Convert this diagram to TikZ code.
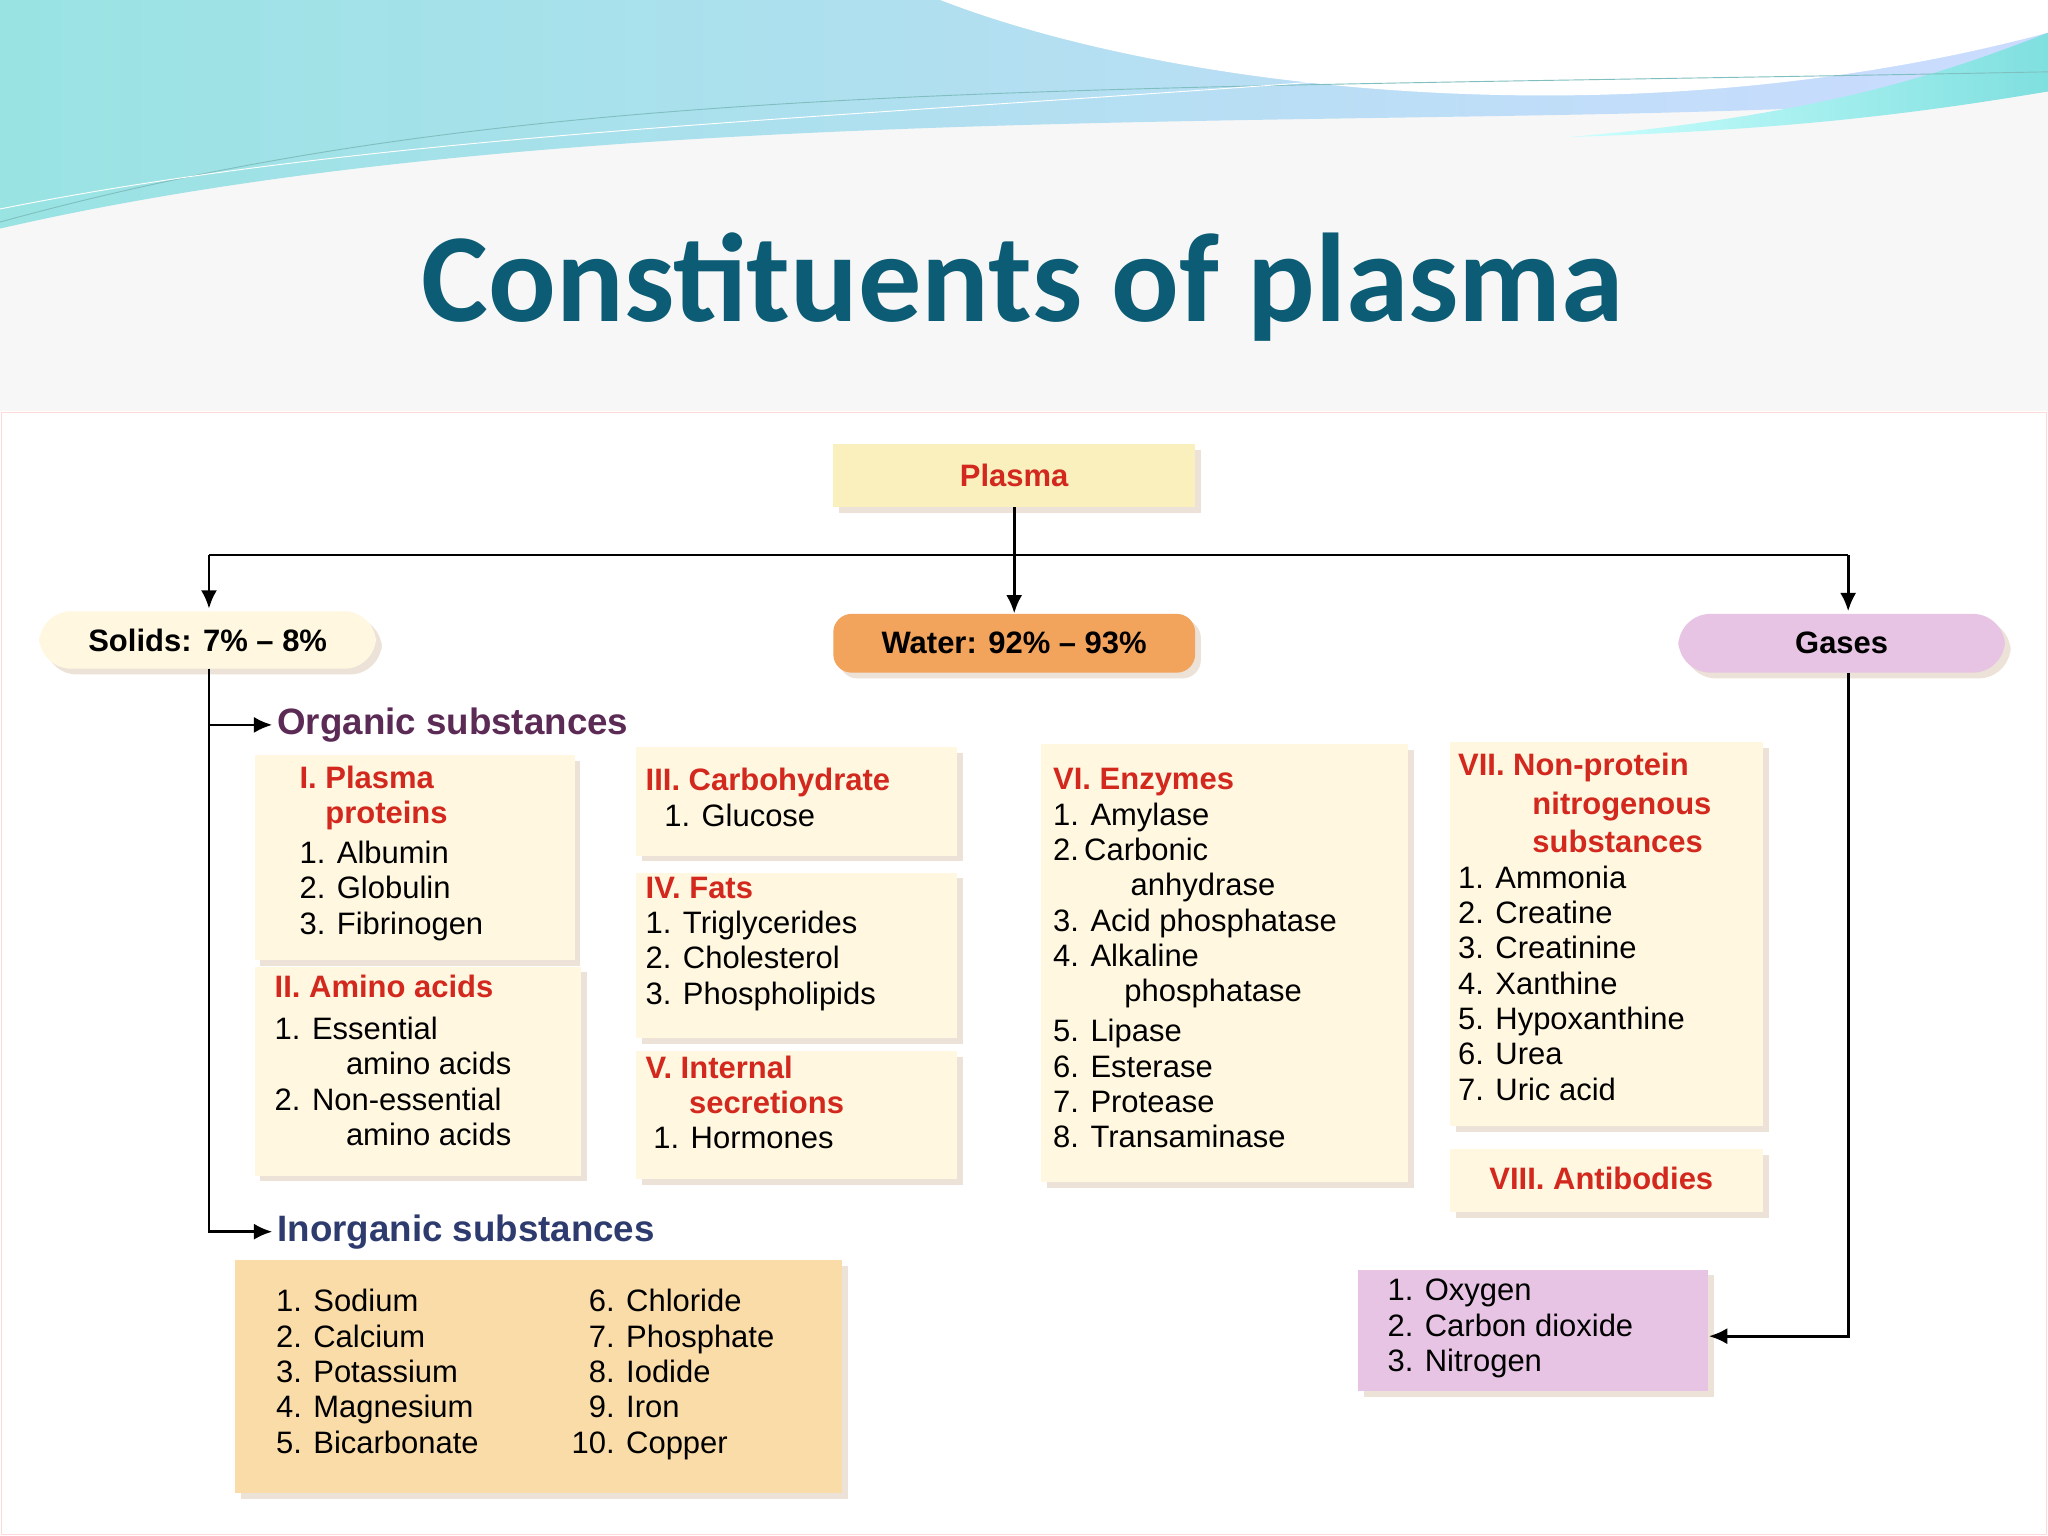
\documentclass[tikz,border=0pt]{standalone}
\usepackage{fontspec}
\setmainfont{Liberation Sans}
\newfontfamily\titlefont{Carlito}
\usetikzlibrary{fit,shadows,arrows.meta}
\definecolor{redt}{HTML}{D2281E}
\definecolor{creamc}{HTML}{FFF7E0}
\definecolor{plasmac}{HTML}{F9F0BE}
\definecolor{waterc}{HTML}{F2A35C}
\definecolor{gasc}{HTML}{E7C4E4}
\definecolor{inorgc}{HTML}{FADCA8}
\definecolor{titlec}{HTML}{0B5C74}
\definecolor{orgc}{HTML}{5B2A55}
\definecolor{inorgt}{HTML}{2E3B6E}
\tikzset{
  box/.style={inner sep=0pt, fill=creamc, drop shadow={shadow xshift=2.5pt, shadow yshift=-2.5pt, fill=orange!35!gray!45}},
  txt/.style={anchor=north west, inner sep=0pt, align=left, font=\fontsize{13.5}{15.4}\selectfont},
  head/.style={font=\fontsize{13.5}{15.4}\selectfont\bfseries},
  arr/.style={line width=1.2pt, -{Latex[length=8pt,width=7pt]}},
  ln/.style={line width=1.2pt}
}
\newcommand{\rt}[1]{\textcolor{redt}{\textbf{#1}}}
\begin{document}
\begin{tikzpicture}[x=0.02cm,y=-0.02cm]
\useasboundingbox (0,0) rectangle (1568,1176);
% background
\fill[gray!6] (0,0) rectangle (1568,315);
\fill[white] (0,315) rectangle (1568,1176);
\draw[red!15, thin] (1,316) rectangle (1567,1175);
% waves
\shade[left color=cyan!45!teal!40, right color=cyan!30!blue!20] (0,0) -- (1568,0) -- (1568,70) .. controls (1200,110) and (500,60) .. (0,175) -- cycle;
\fill[white] (720,0) .. controls (900,70) and (1250,110) .. (1568,25) -- (1568,0) -- cycle;
\shade[left color=cyan!20, right color=cyan!50!teal!50] (1200,105) .. controls (1380,90) and (1480,60) .. (1568,25) -- (1568,70) .. controls (1450,90) and (1350,100) .. (1200,105) -- cycle;
\draw[teal!50, thin] (0,170) .. controls (400,60) and (800,70) .. (1568,55);
\draw[white, thin] (0,160) .. controls (400,80) and (900,90) .. (1568,10);
% title
\node[font=\titlefont\bfseries\fontsize{55}{60}\selectfont, text=titlec] (title) at (783,220) {Constituents of plasma};
% top nodes
\node[box, fill=plasmac, fit={(638,340)(915,388)}] (plasma) {};
\node[head, text=redt] (plasmat) at (plasma) {Plasma};
\node[box, fill=creamc, rounded corners=14pt, fit={(30,468)(288,512)}] (solids) {};
\node[head] (solidst) at (solids) {Solids: 7\% -- 8\%};
\node[box, fill=waterc, rounded corners=8pt, fit={(638,470)(915,515)}] (water) {};
\node[head] (watert) at (water) {Water: 92\% -- 93\%};
\node[box, fill=gasc, rounded corners=14pt, fit={(1285,470)(1535,515)}] (gases) {};
\node[head] (gasest) at (gases) {Gases};
\coordinate (jn) at (779,425);
\coordinate (jl) at (160,425);
\coordinate (jr) at (1415,425);
\draw[arr] (plasma.south) -- (water.north);
\draw[ln] (jl) -- (jr);
\draw[arr] (jl) -- (160,466);
\draw[arr] (jr) -- (1415,468);
% headings
\node[anchor=west, inner sep=0pt, font=\fontsize{16}{18}\selectfont\bfseries, text=orgc] (org) at (212,555) {Organic substances};
\node[anchor=west, inner sep=0pt, font=\fontsize{16}{18}\selectfont\bfseries, text=inorgt] (inorg) at (212,943) {Inorganic substances};
\coordinate (sv) at (160,512);
\draw[arr] (sv) |- ([xshift=-2pt]org.west);
\draw[arr] (sv) |- ([xshift=-2pt]inorg.west);
% organic boxes
\node[box, fit={(195,578)(440,735)}] (b1) {};
\node[txt] (t1) at (229,586) {\rt{I. Plasma}\\\rt{\phantom{I. }proteins}\\[2pt]1. Albumin\\2. Globulin\\3. Fibrinogen};
\node[box, fit={(195,740)(445,900)}] (b2) {};
\node[txt] (t2) at (210,746) {\rt{II. Amino acids}\\[3pt]1. Essential\\\hspace*{2.3em}amino acids\\2. Non-essential\\\hspace*{2.3em}amino acids};
\node[box, fit={(487,572)(733,655)}] (b3) {};
\node[txt] (t3) at (494,588) {\rt{III. Carbohydrate}\\\hspace*{0.6em}1. Glucose};
\node[box, fit={(487,668)(733,795)}] (b4) {};
\node[txt] (t4) at (494,671) {\rt{IV. Fats}\\1. Triglycerides\\2. Cholesterol\\3. Phospholipids};
\node[box, fit={(487,805)(733,903)}] (b5) {};
\node[txt] (t5) at (494,808) {\rt{V. Internal}\\\rt{\hspace*{1.4em}secretions}\\\hspace*{0.25em}1. Hormones};
\node[box, fit={(797,570)(1078,905)}] (b6) {};
\node[txt] (t6) at (806,588) {\rt{VI. Enzymes}\\1. Amylase\\2.\,Carbonic\\\hspace*{2.5em}anhydrase\\3. Acid phosphatase\\4. Alkaline\\\hspace*{2.3em}phosphatase\\[2pt]5. Lipase\\6. Esterase\\7. Protease\\8. Transaminase};
\node[box, fit={(1110,568)(1350,862)}] (b7) {};
\node[txt] (t7) at (1116,576) {\rt{VII. Non-protein}\\[1.5pt]\rt{\hspace*{2.4em}nitrogenous}\\[1.5pt]\rt{\hspace*{2.4em}substances}\\1. Ammonia\\2. Creatine\\3. Creatinine\\4. Xanthine\\5. Hypoxanthine\\6. Urea\\7. Uric acid};
\node[box, fit={(1110,880)(1350,928)}] (b8) {};
\node[head, text=redt] (t8) at (1226,902) {VIII. Antibodies};
% inorganic
\node[box, fill=inorgc, fit={(180,965)(645,1143)}] (bi) {};
\node[txt] (ti) at (211,985) {\begin{tabular}{@{}l@{\hspace{3em}}r@{ }l@{}}
1. Sodium & 6. & Chloride\\
2. Calcium & 7. & Phosphate\\
3. Potassium & 8. & Iodide\\
4. Magnesium & 9. & Iron\\
5. Bicarbonate & 10. & Copper
\end{tabular}};
% gases list
\node[box, fill=gasc, fit={(1040,972)(1308,1065)}] (bg) {};
\node[txt] (tg) at (1062,979) {1. Oxygen\\2. Carbon dioxide\\3. Nitrogen};
\coordinate (gv) at (1415,515);
\draw[arr] (gv) |- (bg.east |- 0,1023);
\end{tikzpicture}
\end{document}
